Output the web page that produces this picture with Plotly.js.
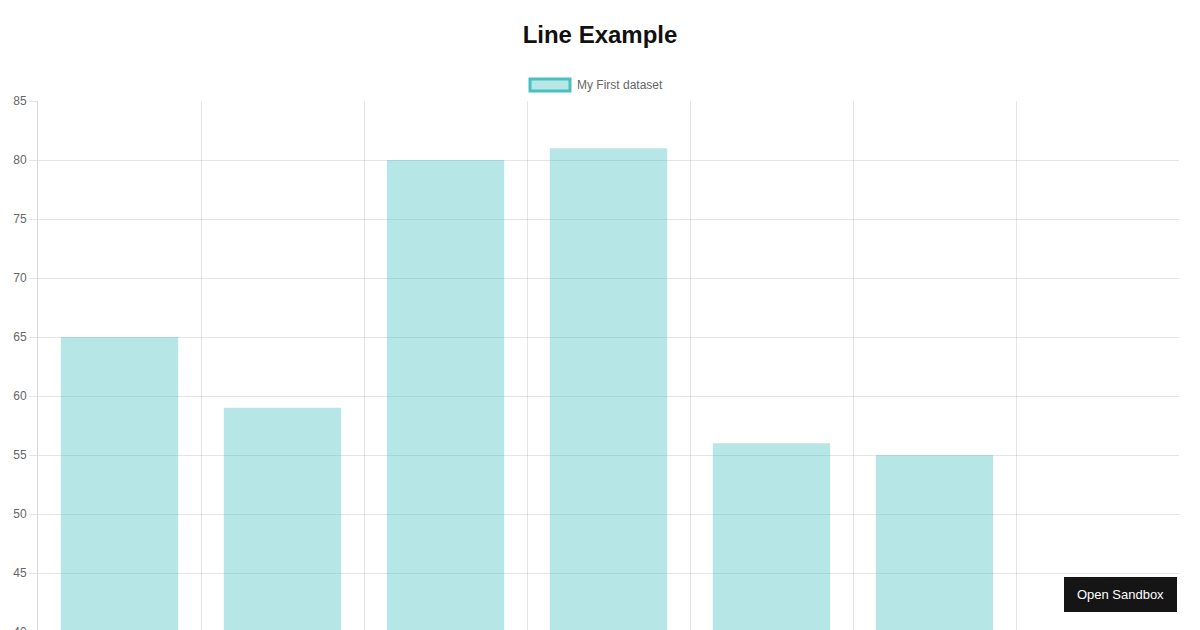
<!DOCTYPE html>
<html>
<head>
<meta charset="utf-8">
<script src="https://cdn.plot.ly/plotly-3.0.1.min.js"></script>
<style>
  html, body { margin: 0; padding: 0; overflow: hidden; background: #fff; }
  #chart { width: 1200px; height: 680px; }
</style>
</head>
<body>
<div id="chart"></div>
<script>
const MONTHS = ['January', 'February', 'March', 'April', 'May', 'June', 'July']
const FIRST_DATASET = [65, 59, 80, 81, 56, 55, 40]
const Y_TICKS = [40, 45, 50, 55, 60, 65, 70, 75, 80, 85]

const GRID = 'rgba(0,0,0,0.1)'
const TEAL = 'rgb(75,192,192)'
const FILL = 'rgba(75,192,192,0.4)'
const FONT = 'Liberation Sans, Arial, sans-serif'

// plot area in page pixels, used to place the legend box and button
const PLOT_L = 38, PLOT_W = 1141, PLOT_B = 632, PLOT_H = 531
const px = (x) => (x - PLOT_L) / PLOT_W
const py = (y) => (PLOT_B - y) / PLOT_H

let data = [
  {
    type: 'bar',
    name: 'My First dataset',
    x: MONTHS,
    y: FIRST_DATASET,
    width: 0.72,
    marker: { color: FILL },
    hoverinfo: 'x+y'
  }
]

let layout = {
  width: 1200,
  height: 680,
  paper_bgcolor: '#fff',
  plot_bgcolor: '#fff',
  font: { family: FONT, size: 12, color: '#666' },
  title: {
    text: '<b>Line Example</b>',
    font: { family: FONT, size: 24, color: '#111' },
    x: 0.5,
    xanchor: 'center',
    y: 1 - 35 / 680,
    yanchor: 'middle'
  },
  showlegend: false,
  xaxis: {
    type: 'category',
    tickson: 'boundaries',
    showgrid: true,
    gridcolor: GRID,
    gridwidth: 1,
    zeroline: false,
    showline: false,
    showticklabels: false,
    ticks: '',
    fixedrange: true
  },
  yaxis: {
    range: [40, 85],
    tickvals: Y_TICKS,
    showgrid: true,
    gridcolor: GRID,
    gridwidth: 1,
    zeroline: false,
    showline: true,
    linecolor: 'rgba(0,0,0,0.15)',
    linewidth: 1,
    ticks: 'outside',
    ticklen: 8,
    tickcolor: GRID,
    ticklabelstandoff: 0,
    fixedrange: true
  },
  margin: { l: PLOT_L, r: 1200 - PLOT_L - PLOT_W, t: 101, b: 680 - PLOT_B },
  shapes: [
    // legend swatch, drawn like the chart.js box
    {
      type: 'rect',
      xref: 'paper', yref: 'paper',
      x0: px(530), x1: px(570),
      y0: py(91), y1: py(79),
      fillcolor: FILL,
      line: { color: TEAL, width: 3 }
    }
  ],
  annotations: [
    {
      text: 'My First dataset',
      xref: 'paper', yref: 'paper',
      x: px(575), y: py(85),
      xanchor: 'left', yanchor: 'middle',
      showarrow: false,
      font: { family: FONT, size: 12, color: '#666' }
    },
    {
      text: 'Open Sandbox',
      xref: 'paper', yref: 'paper',
      x: px(1177), y: py(594.5),
      xanchor: 'right', yanchor: 'middle',
      showarrow: false,
      width: 95,
      height: 17,
      bgcolor: '#151515',
      bordercolor: '#151515',
      borderpad: 8,
      font: { family: FONT, size: 13, color: '#fff' }
    }
  ]
}

let config = {
  displayModeBar: false,
  staticPlot: true
}

Plotly.newPlot('chart', data, layout, config)
</script>
</body>
</html>
